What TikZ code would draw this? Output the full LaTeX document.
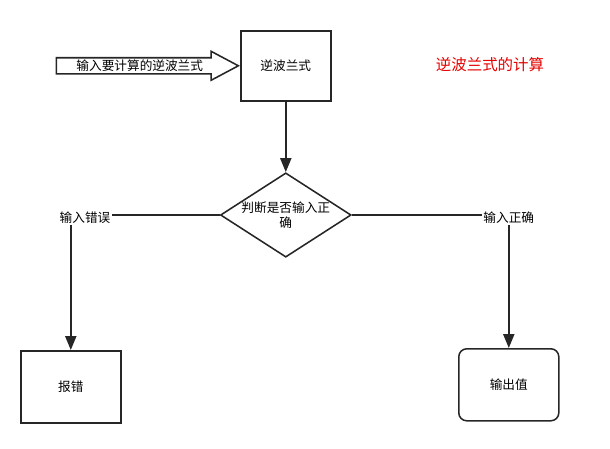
\documentclass[tikz,border=0pt]{standalone}
\usepackage{fontspec}
\setmainfont{Noto Sans CJK SC}
\usetikzlibrary{arrows.meta,positioning,shapes.geometric,shapes.arrows}
\tikzset{procbox/.style={
    % The shape:
    rectangle,
    minimum width=22.5mm,
    minimum height=17.5mm,
    % The border:
    line width=1.1pt,
    draw=black!85,
    font=\fontsize{9}{11}\selectfont
    },
    endbox/.style={
    procbox,
    minimum width=25mm,
    minimum height=18mm,
    },
    check/.style={
    diamond,aspect=1.55,
    minimum width=31mm,
    minimum height=20mm,
    inner sep=0pt,
    line width=1.1pt,
    draw=black!85,
    align=center,
    font=\fontsize{9}{11}\selectfont
    },
    flow/.style={line width=1.1pt,draw=black!85,-{Triangle[length=3.5mm,width=2.8mm]}},
    tag/.style={fill=white,inner sep=1pt,font=\fontsize{9}{11}\selectfont},
}
\begin{document}
\begin{tikzpicture}[x=0.025cm,y=-0.025cm]
    \useasboundingbox (0,0) rectangle (610,448);
    \node (rpn)    [procbox,anchor=north west] at (240,30)    {逆波兰式};
    \node (title)  [font=\fontsize{11}{13}\selectfont,text=red!90!black] at (490,65) {逆波兰式的计算};
    \node (input)  [single arrow,line width=1.1pt,draw=black!85,minimum height=45.5mm,
                    single arrow head extend=1.6mm,single arrow tip angle=56,
                    minimum width=4.75mm,inner sep=1pt,
                    anchor=tip,font=\fontsize{9}{11}\selectfont] at (rpn.west) {输入要计算的逆波兰式\hspace{7mm}};
    \node (judge)  [check] at (rpn.south |- 0,215) {判断是否输入正\\确};
    \node (err)    [endbox,anchor=north west] at (20,350)   {报错};
    \node (out)    [endbox,rounded corners=2mm,anchor=north west] at (458,348) {输出值};

    \draw[flow] (rpn) -- (judge);
    \draw[flow] (judge.west) -| (err.north);
    \draw[flow] (judge.east) -| (out.north);
    \node (wrong) [tag] at (85,218) {输入错误};
    \node (right) [tag] at (out.north |- 0,218) {输入正确};
\end{tikzpicture}
\end{document}
